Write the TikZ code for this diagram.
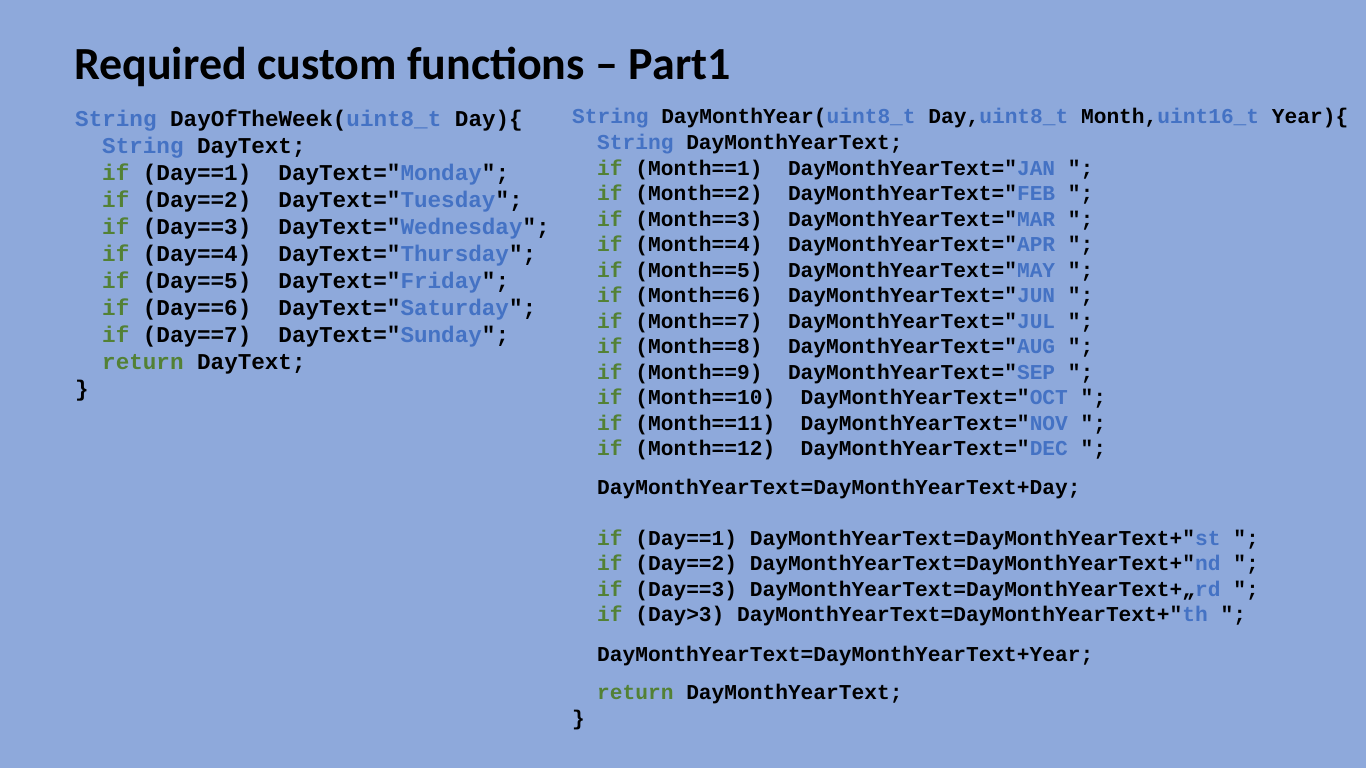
\documentclass[tikz,border=0pt]{standalone}
\usepackage{fontspec}
\setmainfont{Carlito}
\setmonofont{Liberation Mono}
\definecolor{bg}{HTML}{8EA9DB}
\definecolor{kb}{HTML}{4472C4}
\definecolor{kg}{HTML}{538135}
\newcommand\kb[1]{\textcolor{kb}{#1}}
\newcommand\kg[1]{\textcolor{kg}{#1}}
\begin{document}
\begin{tikzpicture}[x=1pt,y=-1pt,
  L/.style={anchor=base west,inner sep=0pt,font=\fontsize{22.6}{22.6}\ttfamily\bfseries},
  R/.style={anchor=base west,inner sep=0pt,font=\fontsize{21.2}{21.2}\ttfamily\bfseries}]
\fill[bg] (0,0) rectangle (1366,768);
\useasboundingbox (0,0) rectangle (1366,768);
\node[anchor=base west,inner sep=0pt,font=\fontsize{46}{46}\selectfont\bfseries] (title) at (74,80) {Required custom functions – Part1};
% left
\node[L] (l0) at (75,126) {\kb{String} DayOfTheWeek(\kb{uint8\_t} Day)\{};
\node[L] (l1) at (102,153) {\kb{String} DayText;};
\node[L] (l2) at (102,180) {\kg{if} (Day==1)~~DayText="\kb{Monday}";};
\node[L] (l3) at (102,207) {\kg{if} (Day==2)~~DayText="\kb{Tuesday}";};
\node[L] (l4) at (102,234) {\kg{if} (Day==3)~~DayText="\kb{Wednesday}";};
\node[L] (l5) at (102,261) {\kg{if} (Day==4)~~DayText="\kb{Thursday}";};
\node[L] (l6) at (102,288) {\kg{if} (Day==5)~~DayText="\kb{Friday}";};
\node[L] (l7) at (102,315) {\kg{if} (Day==6)~~DayText="\kb{Saturday}";};
\node[L] (l8) at (102,342) {\kg{if} (Day==7)~~DayText="\kb{Sunday}";};
\node[L] (l9) at (102,369) {\kg{return} DayText;};
\node[L] (l10) at (75,396) {\}};
% right
\node[R] (r0) at (572,124) {\kb{String} DayMonthYear(\kb{uint8\_t} Day,\kb{uint8\_t} Month,\kb{uint16\_t} Year)\{};
\node[R] (r1) at (597,149.5) {\kb{String} DayMonthYearText;};
\node[R] (m1) at (597,175) {\kg{if} (Month==1)~~DayMonthYearText="\kb{JAN}~";};
\node[R] (m2) at (597,200.5) {\kg{if} (Month==2)~~DayMonthYearText="\kb{FEB}~";};
\node[R] (m3) at (597,226) {\kg{if} (Month==3)~~DayMonthYearText="\kb{MAR}~";};
\node[R] (m4) at (597,251.5) {\kg{if} (Month==4)~~DayMonthYearText="\kb{APR}~";};
\node[R] (m5) at (597,277) {\kg{if} (Month==5)~~DayMonthYearText="\kb{MAY}~";};
\node[R] (m6) at (597,302.5) {\kg{if} (Month==6)~~DayMonthYearText="\kb{JUN}~";};
\node[R] (m7) at (597,328) {\kg{if} (Month==7)~~DayMonthYearText="\kb{JUL}~";};
\node[R] (m8) at (597,353.5) {\kg{if} (Month==8)~~DayMonthYearText="\kb{AUG}~";};
\node[R] (m9) at (597,379) {\kg{if} (Month==9)~~DayMonthYearText="\kb{SEP}~";};
\node[R] (m10) at (597,404.5) {\kg{if} (Month==10)~~DayMonthYearText="\kb{OCT}~";};
\node[R] (m11) at (597,430) {\kg{if} (Month==11)~~DayMonthYearText="\kb{NOV}~";};
\node[R] (m12) at (597,455.5) {\kg{if} (Month==12)~~DayMonthYearText="\kb{DEC}~";};
\node[R] (a1) at (597,494) {DayMonthYearText=DayMonthYearText+Day;};
\node[R] (d1) at (597,545) {\kg{if} (Day==1) DayMonthYearText=DayMonthYearText+"\kb{st}~";};
\node[R] (d2) at (597,570.5) {\kg{if} (Day==2) DayMonthYearText=DayMonthYearText+"\kb{nd}~";};
\node[R] (d3) at (597,596) {\kg{if} (Day==3) DayMonthYearText=DayMonthYearText+„\kb{rd}~";};
\node[R] (d4) at (597,621.5) {\kg{if} (Day>3) DayMonthYearText=DayMonthYearText+"\kb{th}~";};
\node[R] (a2) at (597,661) {DayMonthYearText=DayMonthYearText+Year;};
\node[R] (rt) at (597,699) {\kg{return} DayMonthYearText;};
\node[R] (rc) at (572,725) {\}};
\end{tikzpicture}
\end{document}
